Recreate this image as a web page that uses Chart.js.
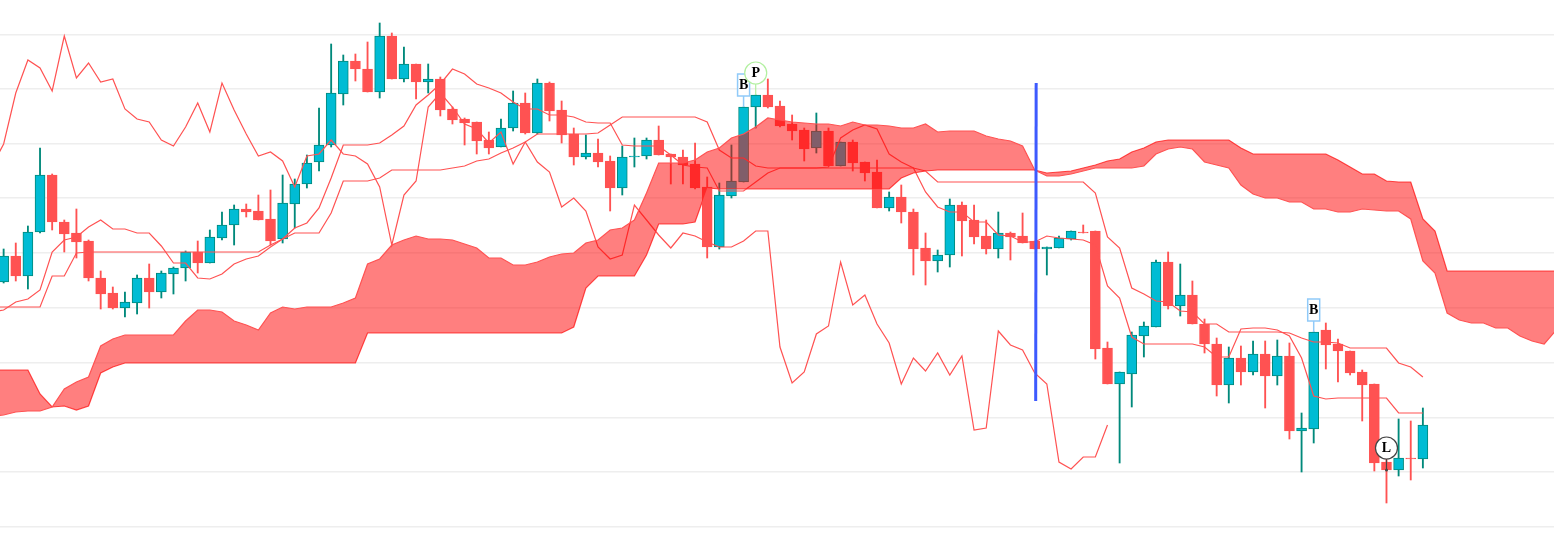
<!DOCTYPE html>
<html>
<head>
<meta charset="utf-8">
<style>html,body{margin:0;padding:0;background:#fff;overflow:hidden}canvas{display:block}</style>
<script src="https://cdn.jsdelivr.net/npm/chart.js@4/dist/chart.umd.js"></script>
</head>
<body>
<canvas id="c" width="1554" height="544"></canvas>
<script>
const opens=[262,288,268,312,369,322,311,303,266,251,236,241,266,252,270,276,292,281,306,319,335,333,325,305,340,360,382,399,450,483,475,452,508,465,480,462,465,435,425,422,404,397,416,441,411,461,434,410,387,391,383,356,387,388,404,390,387,380,357,297,348,362,437,449,438,420,414,396,413,378,402,382,372,336,347,332,296,283,289,339,324,308,295,311,308,303,295,296,305,312,313,196,160,170,208,217,282,238,249,220,200,159,186,172,190,168,188,113,115,214,200,193,172,160,82,74,86,85];
const closes=[288,268,312,369,322,310,302,266,250,236,242,266,252,271,276,292,281,307,319,335,332,324,303,341,360,381,399,451,483,475,452,508,465,480,462,465,434,424,421,403,396,416,441,411,461,433,409,387,391,382,356,387,388,404,389,387,379,356,297,349,363,437,449,437,418,413,395,413,378,402,381,371,336,347,332,295,283,289,339,323,307,295,311,307,301,295,297,306,313,311,195,160,172,209,218,282,238,249,220,200,159,186,172,190,168,188,113,116,212,199,193,171,159,81,74,86,85,119];
const highs=[295,301,318,396,370,324,335,304,273,257,252,269,280,273,277,293,303,314,332,339,340,349,354,369,365,389,436,500,489,490,502,521,511,497,480,480,467,437,426,422,412,425,453,451,465,462,443,416,409,405,388,398,406,406,418,390,394,401,367,361,399,437,449,465,443,429,416,431,416,402,404,382,384,352,359,335,311,294,345,342,339,324,332,312,331,303,297,308,313,319,313,202,172,212,222,284,292,280,263,225,206,197,198,203,203,204,201,131,212,221,205,193,174,160,86,125,123,136];
const lows=[261,263,255,311,314,292,286,263,235,235,227,230,236,246,250,263,271,281,304,299,327,324,299,301,316,356,373,397,439,463,452,446,465,462,445,451,428,420,399,390,390,397,413,410,410,423,401,379,385,377,333,349,377,385,389,360,360,355,286,295,346,362,416,436,417,404,383,391,378,378,373,363,336,333,321,269,259,272,277,288,300,290,286,284,301,295,269,296,304,311,185,160,81,137,187,217,235,228,220,191,148,141,159,169,136,159,105,72,101,175,162,169,123,73,41,68,64,76];

const chikouStart=-1;
const chikou=[377,400,451,484,476,453,508,466,481,462,465,435,425,422,404,398,417,441,412,461,434,410,388,392,383,357,388,390,404,390,388,380,357,299,349,363,437,451,437,420,415,401,412,380,402,382,372,337,346,333,297,285,289,339,324,309,296,311,308,302,297,297,303,313,313,197,161,172,210,218,282,239,249,220,201,160,186,173,191,169,188,114,116,213,199,194,171,160,82,75,87,87,119];

const lineStart=-1;
const tenkan=[232,234,242,245,254,292,304,307,317,324,315,315,311,311,298,281,281,266,265,270,280,285,288,297,305,316,321,336,366,399,399,399,401,409,418,439,449,460,475,470,460,456,451,442,435,435,429,429,427,422,421,421,399,398,398,398,389,379,377,376,353,353,353,362,371,376,376,376,376,377,406,414,419,415,390,382,376,352,337,332,332,322,322,309,308,302,302,308,306,305,304,299,258,246,207,200,200,200,200,200,197,187,187,215,216,216,214,208,186,148,145,146,146,146,146,146,131,131,131];
const kijun=[237,237,237,237,237,268,268,291,292,292,292,292,292,292,292,292,292,292,292,292,292,292,292,299,305,311,311,311,331,363,363,363,366,374,374,374,374,374,376,378,383,385,391,396,402,410,410,410,410,410,411,419,427,427,427,427,427,427,427,422,394,386,386,378,376,376,376,376,376,376,376,376,376,376,376,376,376,373,362,362,362,362,362,362,362,362,362,362,362,362,362,351,307,296,256,250,243,242,233,232,220,220,212,212,212,212,212,211,206,202,202,201,196,196,196,196,181,177,167];

const spanA=[128,129,132,133,133,137,155,162,167,198,205,209,209,209,209,209,223,234,234,232,223,219,214,231,237,235,237,237,237,241,246,280,285,299,304,308,305,305,304,300,296,286,286,279,279,282,287,290,291,301,304,314,316,324,351,381,381,381,384,392,396,406,410,417,426,424,422,421,420,420,418,422,419,419,418,416,416,420,412,413,413,413,408,405,403,398,374,368,368,370,373,376,376,376,376,378,390,395,397,395,382,379,376,359,350,346,346,342,342,335,335,332,332,335,334,333,333,325,283,271,231,224,221,221,216,216,208,203,200,214];
const spanB=[174,174,174,174,150,137,138,134,138,171,177,181,181,181,181,181,181,181,181,181,181,181,181,181,181,181,181,181,181,181,181,211,211,211,211,211,211,211,211,211,211,211,211,211,211,211,211,211,217,256,268,268,268,268,289,320,320,320,322,356,355,355,355,355,355,355,355,355,355,355,355,355,355,355,355,366,371,373,374,374,374,374,374,374,374,374,374,371,372,373,376,379,383,385,392,396,402,404,404,404,404,404,404,396,390,390,390,390,390,390,390,384,377,370,370,363,362,362,325,313,273,273,273,273,273,273,273,273,273,273];

const gridValues=[509,455,400,346,291,236,181,126,72,17];
const eventLineX=[85.12,85.08];
const eventLineY=[461,143];
const signalIndex=[61,108,62,114];
const signalValue=[437,212,449,74];
const signalLabel=['B','B','P','L'];

const UP='#00bcd4',UP_EDGE='#00897b',DOWN='#ff5252';
const isUp=i=>closes[i]>=opens[i];
const series=(arr,start)=>arr.map((y,k)=>({x:start+k,y}));
const line=(data,extra)=>Object.assign({type:'line',data,borderColor:'#ff5252',borderWidth:1.2,pointRadius:0,tension:0,fill:false},extra||{});

const wicks=highs.map((h,i)=>({x:i,y:[lows[i],h]}));
const bodies=opens.map((o,i)=>({x:i,y:[Math.min(o,closes[i]),Math.max(o,closes[i])]}));

const signalPlugin={
  id:'signals',
  afterDatasetsDraw(chart){
    const {ctx,scales:{x,y}}=chart;
    ctx.save();
    signalIndex.forEach((idx,k)=>{
      const px=x.getPixelForValue(idx),py=y.getPixelForValue(signalValue[k]),lab=signalLabel[k];
      ctx.textAlign='center';ctx.textBaseline='middle';
      const font='bold 14px "Liberation Serif"';
      if(lab==='B'){
        ctx.strokeStyle='#90caf9';ctx.lineWidth=1.5;
        ctx.beginPath();ctx.moveTo(px,py);ctx.lineTo(px,py-11);ctx.stroke();
        ctx.fillStyle='#fff';ctx.fillRect(px-6,py-33,12,22);
        ctx.strokeRect(px-6,py-33,12,22);
        ctx.fillStyle='#000';ctx.font=font;
        ctx.fillText(lab,px,py-22);
      }else{
        const col=lab==='P'?'#b2f0a0':'#444444';
        ctx.strokeStyle=col;ctx.lineWidth=1.2;
        ctx.beginPath();ctx.moveTo(px,py);ctx.lineTo(px,py-11);ctx.stroke();
        if(lab==='L'){ctx.fillStyle=col;ctx.beginPath();ctx.arc(px,py,1.5,0,Math.PI*2);ctx.fill();}
        ctx.fillStyle='#fff';ctx.beginPath();ctx.arc(px,py-22,11,0,Math.PI*2);ctx.fill();ctx.stroke();
        ctx.fillStyle='#000';ctx.font=font;
        ctx.fillText(lab,px,py-22);
      }
    });
    ctx.restore();
  }
};

new Chart(document.getElementById('c'),{
  type:'bar',
  data:{datasets:[
    line(series(spanA,lineStart),{fill:'+1',backgroundColor:'rgba(255,0,0,0.5)',order:2}),
    line(series(spanB,lineStart),{order:3}),
    line(eventLineX.map((x,i)=>({x,y:eventLineY[i]})),{borderColor:'#3d5afe',borderWidth:3,order:1}),
    line(series(tenkan,lineStart),{order:4}),
    line(series(kijun,lineStart),{order:5}),
    line(series(chikou,chikouStart),{order:6}),
    {data:bodies,barThickness:10,grouped:false,borderWidth:1,borderSkipped:false,
     backgroundColor:c=>isUp(c.dataIndex)?UP:DOWN,borderColor:c=>isUp(c.dataIndex)?UP_EDGE:DOWN,order:7},
    {data:wicks,barThickness:1.2,grouped:false,borderWidth:0,
     backgroundColor:c=>isUp(c.dataIndex)?UP_EDGE:DOWN,order:8}
  ]},
  options:{
    responsive:false,animation:false,devicePixelRatio:1,
    layout:{padding:0},
    plugins:{legend:{display:false},tooltip:{enabled:false}},
    scales:{
      x:{type:'linear',display:false,min:-0.3,max:127.81,offset:false},
      y:{type:'linear',min:0,max:544,position:'left',
         afterBuildTicks(a){a.ticks=gridValues.map(value=>({value}));},
         ticks:{display:false},border:{display:false},
         grid:{color:'#eeeeee',lineWidth:1.5,drawTicks:false}}
    }
  },
  plugins:[signalPlugin]
});
</script>
</body>
</html>
